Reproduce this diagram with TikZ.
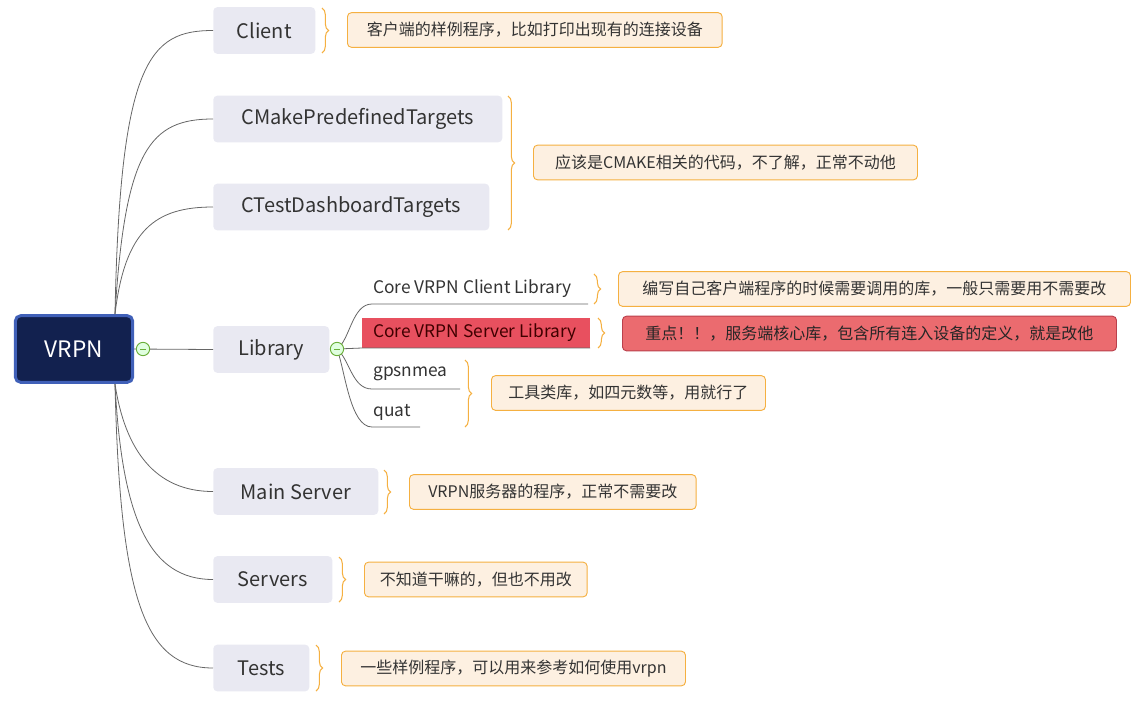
\documentclass[tikz,border=0pt]{standalone}
\usepackage{fontspec}
\setmainfont{Noto Sans CJK SC}
\usetikzlibrary{decorations.pathreplacing}
\definecolor{rootfill}{HTML}{12214F}
\definecolor{rootborder}{HTML}{4060B8}
\definecolor{topicfill}{HTML}{E9E9F2}
\definecolor{notefill}{HTML}{FDF0E1}
\definecolor{noteborder}{HTML}{F5B041}
\definecolor{redfill}{HTML}{E8505F}
\definecolor{rednote}{HTML}{EB6B6F}
\definecolor{txt}{HTML}{333333}
\definecolor{linec}{HTML}{666666}
\definecolor{greenc}{HTML}{6AAF3A}
\tikzset{
  topic/.style={fill=topicfill,rounded corners=3pt,anchor=west,font=\fontsize{15}{18}\selectfont,text=txt,inner sep=0pt,minimum height=35pt},
  note/.style={fill=notefill,draw=noteborder,rounded corners=3pt,anchor=west,font=\fontsize{12}{14}\selectfont,text=txt,inner sep=0pt,minimum height=26pt,line width=0.7pt},
  sub/.style={anchor=west,font=\fontsize{13}{15}\selectfont,text=txt,inner sep=0pt},
  conn/.style={draw=linec,line width=0.6pt},
  brc/.style={draw=noteborder,line width=0.8pt,decorate,decoration={brace,amplitude=5pt}},
  tog/.style={circle,draw=greenc,fill=green!12,minimum size=10pt,inner sep=0pt,line width=0.7pt}
}
\begin{document}
\begin{tikzpicture}[x=0.75pt,y=-0.75pt]
\useasboundingbox (0,0) rectangle (1145,700);
% root
\node[fill=rootfill,draw=rootborder,line width=2.2pt,rounded corners=4pt,minimum width=88pt,minimum height=50pt,text=white,font=\fontsize{17}{20}\selectfont] (root) at (74,349) {VRPN};
\coordinate (ru) at (115,314);
\coordinate (rd) at (115,384);
% topics
\node[topic,minimum width=76.5pt] (client) at (213,30.5) {Client};
\node[topic,minimum width=216.75pt] (cmake) at (213,119) {CMakePredefinedTargets};
\node[topic,minimum width=207pt] (ctest) at (213,207) {CTestDashboardTargets};
\node[topic,minimum width=87pt] (lib) at (213,349.5) {Library};
\node[topic,minimum width=123.75pt] (main) at (213,491.5) {Main Server};
\node[topic,minimum width=89.25pt] (servers) at (213,579.5) {Servers};
\node[topic,minimum width=72pt] (tests) at (213,668) {Tests};
% connectors
\draw[conn] (ru) .. controls (120,60) and (150,30.5) .. (client.west);
\draw[conn] (ru) .. controls (125,150) and (150,119) .. (cmake.west);
\draw[conn] (ru) .. controls (125,230) and (155,207) .. (ctest.west);
\draw[conn] (rd) .. controls (125,450) and (155,491.5) .. (main.west);
\draw[conn] (rd) .. controls (122,520) and (150,579.5) .. (servers.west);
\draw[conn] (rd) .. controls (120,600) and (145,668) .. (tests.west);
\draw[conn] (root.east) -- (lib.west);
\node[tog] (t1) at (143,349) {};
\draw[greenc,line width=0.7pt] (140,349) -- (146,349);
% library children
\node[sub] (cl) at (373,289) {Core VRPN Client Library};
\node[fill=redfill,anchor=west,minimum width=171pt,minimum height=22.5pt,inner sep=0pt] (srvbox) at (362,333) {};
\node[sub,text=black!75!red] (sl) at (373,333) {Core VRPN Server Library};
\node[sub] (gp) at (373,374) {gpsnmea};
\node[sub] (qt) at (373,412) {quat};
\coordinate (cle) at (588,304);
\coordinate (sle) at (590,348);
\coordinate (gpe) at (460,389);
\coordinate (qte) at (420,427);
\coordinate (l0) at (337,349);
\draw[conn] (l0) .. controls (350,340) and (352,304) .. (372,304) -- (cle);
\draw[conn] (l0) -- (362,348) -- (sle);
\draw[conn] (l0) .. controls (350,360) and (352,389) .. (372,389) -- (gpe);
\draw[conn] (l0) .. controls (345,370) and (350,427) .. (372,427) -- (qte);
\node[tog] (t2) at (l0) {};
\draw[greenc,line width=0.7pt] (334,349) -- (340,349);
% braces and notes
\draw[brc] (322,8) -- (322,53);
\node[note,minimum width=281pt] (n1) at (347,30) {客户端的样例程序，比如打印出现有的连接设备};
\draw[brc] (508,96) -- (508,230);
\node[note,minimum width=288pt] (n2) at (533,162.5) {应该是CMAKE相关的代码，不了解，正常不动他};
\draw[brc] (594,274) -- (594,304);
\node[note,minimum width=384pt] (n3) at (618,289) {编写自己客户端程序的时候需要调用的库，一般只需要用不需要改};
\draw[brc] (598,318) -- (598,348);
\node[note,fill=rednote,draw=redfill!80!black,minimum width=370.5pt,text=black!85] (n4) at (622,333.5) {重点！！，服务端核心库，包含所有连入设备的定义，就是改他};
\draw[brc] (465,360) -- (465,427);
\node[note,minimum width=205.5pt] (n5) at (491,393) {工具类库，如四元数等，用就行了};
\draw[brc] (384,470) -- (384,514);
\node[note,minimum width=215pt] (n6) at (409,492) {VRPN服务器的程序，正常不需要改};
\draw[brc] (339,557) -- (339,602);
\node[note,minimum width=167pt] (n7) at (364,579.5) {不知道干嘛的，但也不用改};
\draw[brc] (316,645) -- (316,691);
\node[note,minimum width=258pt] (n8) at (341,668.5) {一些样例程序，可以用来参考如何使用vrpn};
\end{tikzpicture}
\end{document}
